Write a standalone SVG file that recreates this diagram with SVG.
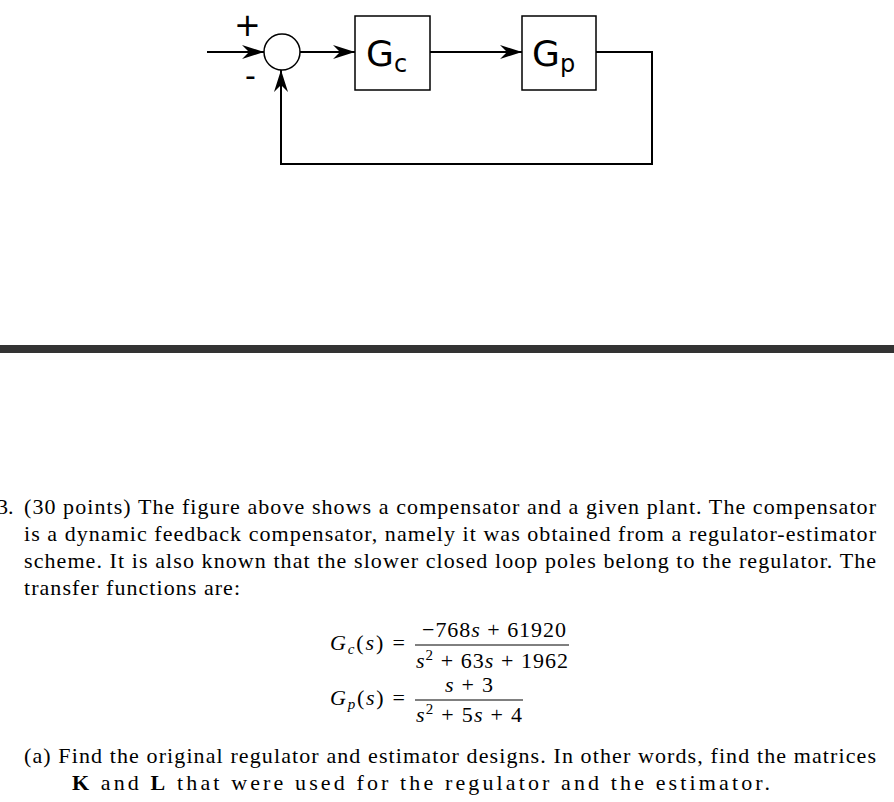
<svg xmlns="http://www.w3.org/2000/svg" width="894" height="802" viewBox="0 0 894 802">
<style>
.ln{stroke:#000;stroke-width:2;fill:none}
.bx{stroke:#000;stroke-width:1.5;fill:#fff}
.lb{font-family:"DejaVu Sans",sans-serif;font-size:36px}
.sb{font-family:"DejaVu Sans",sans-serif;font-size:24px}
.t{font-family:"Liberation Serif",serif;font-size:22px}
.m{font-family:"Liberation Serif",serif;font-size:22px}
</style>
<defs>
<marker id="a" viewBox="0 0 22 14" refX="22" refY="7" markerWidth="22" markerHeight="14" markerUnits="userSpaceOnUse" orient="auto"><path d="M0,0 L22,7 L0,14 L7,7 Z" fill="#000"/></marker>
</defs>
<rect width="894" height="802" fill="#fff"/>
<g id="connectors">
<line class="ln" x1="207" y1="52" x2="264" y2="52" marker-end="url(#a)"/>
<line class="ln" x1="300" y1="52" x2="355" y2="52" marker-end="url(#a)"/>
<line class="ln" x1="430" y1="52" x2="522" y2="52" marker-end="url(#a)"/>
<polyline class="ln" points="596,52 652,52 652,164 281,164 281,70" marker-end="url(#a)"/>
</g>
<g id="sum"><circle cx="282" cy="52" r="18" class="bx"/>
<text x="234" y="36" class="sb" style="font-size:32px">+</text>
<text x="245" y="86" class="sb" style="font-size:30px">-</text></g>
<g id="gc"><rect x="355" y="16" width="75" height="74" class="bx"/><text x="366" y="66" class="lb">G<tspan class="sb" dy="6">c</tspan></text></g>
<g id="gp"><rect x="522" y="16" width="74" height="74" class="bx"/><text x="532" y="66" class="lb">G<tspan class="sb" dy="6">p</tspan></text></g>
<rect x="0" y="345" width="894" height="8" fill="#333"/>
<g class="t">
<text x="-3" y="514">3.</text>
<text x="24" y="514" textLength="852" lengthAdjust="spacing">(30 points)  The figure above shows a compensator and a given plant.  The compensator</text>
<text x="24" y="541" textLength="852" lengthAdjust="spacing">is a dynamic feedback compensator, namely it was obtained from a regulator-estimator</text>
<text x="24" y="568" textLength="852" lengthAdjust="spacing">scheme.  It is also known that the slower closed loop poles belong to the regulator.  The</text>
<text x="24" y="595" textLength="216" lengthAdjust="spacing">transfer functions are:</text>
<text x="24" y="763" textLength="852" lengthAdjust="spacing">(a)  Find the original regulator and estimator designs.  In other words, find the matrices</text>
<text x="72" y="790" textLength="698" lengthAdjust="spacing"><tspan font-weight="bold">K</tspan> and <tspan font-weight="bold">L</tspan> that were used for the regulator and the estimator.</text>
</g>
<g class="m">
<text x="330" y="650" textLength="75" lengthAdjust="spacing"><tspan font-style="italic">G</tspan><tspan font-style="italic" font-size="15" dy="4">c</tspan><tspan dy="-4">(</tspan><tspan font-style="italic">s</tspan>) =</text>
<text x="422" y="637" textLength="144" lengthAdjust="spacing">−768<tspan font-style="italic">s</tspan> + 61920</text>
<line x1="415" y1="645" x2="569" y2="645" stroke="#000" stroke-width="1"/>
<text x="416" y="668" textLength="152" lengthAdjust="spacing"><tspan font-style="italic">s</tspan><tspan font-size="15" dy="-8">2</tspan><tspan dy="8"> + 63</tspan><tspan font-style="italic">s</tspan> + 1962</text>
<text x="330" y="705" textLength="75" lengthAdjust="spacing"><tspan font-style="italic">G</tspan><tspan font-style="italic" font-size="15" dy="4">p</tspan><tspan dy="-4">(</tspan><tspan font-style="italic">s</tspan>) =</text>
<text x="445" y="692" textLength="48" lengthAdjust="spacing"><tspan font-style="italic">s</tspan> + 3</text>
<line x1="415" y1="700" x2="523" y2="700" stroke="#000" stroke-width="1"/>
<text x="416" y="722" textLength="106" lengthAdjust="spacing"><tspan font-style="italic">s</tspan><tspan font-size="15" dy="-8">2</tspan><tspan dy="8"> + 5</tspan><tspan font-style="italic">s</tspan> + 4</text>
</g>
</svg>
